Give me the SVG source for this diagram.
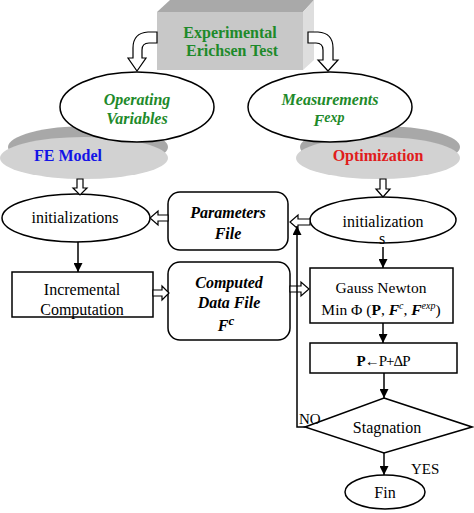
<svg xmlns="http://www.w3.org/2000/svg" width="474" height="513" viewBox="0 0 474 513" font-family="'Liberation Serif', 'Times New Roman', serif">
<defs>
<marker id="ah" viewBox="0 0 10 10" refX="10" refY="5" markerWidth="9" markerHeight="9" orient="auto" markerUnits="userSpaceOnUse"><path d="M0,0 L10,5 L0,10 z" fill="#000"/></marker>
</defs>
<style>
text{font-family:'Liberation Serif','Times New Roman',serif;font-size:16px;fill:#000}
.gr{fill:#1e8a2a;font-weight:bold}
.gi{fill:#1e8a2a;font-weight:bold;font-style:italic}
.bi{font-weight:bold;font-style:italic}
.shape{fill:#fff;stroke:#000;stroke-width:1.5}
.hollow{fill:#fff;stroke:#000;stroke-width:1.2;stroke-linejoin:miter}
.conn{fill:none;stroke:#000;stroke-width:1.5}
</style>
<rect width="474" height="513" fill="#fff"/>

<g id="experimental">
<polygon points="157,12 170,0 314,0 303,12" fill="#a9a9a9"/>
<polygon points="303,12 314,0 314,60 303,70" fill="#dedede"/>
<rect x="157" y="12" width="146" height="58" fill="#c8c8c8"/>
<text class="gr" x="230" y="38" text-anchor="middle" font-family="Liberation Serif, serif">Experimental</text>
<text class="gr" x="232" y="56" text-anchor="middle" font-family="Liberation Serif, serif">Erichsen Test</text>
</g>

<g id="fe-model">
<ellipse cx="88" cy="147" rx="80" ry="21" fill="#a8a8a8"/>
<ellipse cx="84" cy="158" rx="84" ry="21" fill="#d2d2d2"/>
<text x="68" y="161" text-anchor="middle" font-family="Liberation Serif, serif" style="fill:#1414e6;font-weight:bold">FE Model</text>
</g>

<g id="optimization">
<ellipse cx="380" cy="147" rx="80" ry="21" fill="#a8a8a8"/>
<ellipse cx="378" cy="158" rx="82" ry="21" fill="#d2d2d2"/>
<text x="378" y="161" text-anchor="middle" font-family="Liberation Serif, serif" style="fill:#e01c1c;font-weight:bold">Optimization</text>
</g>

<g id="operating-variables">
<ellipse class="shape" cx="137" cy="107" rx="77" ry="35"/>
<text class="gi" x="137" y="105" text-anchor="middle" font-family="Liberation Serif, serif">Operating</text>
<text class="gi" x="137" y="124" text-anchor="middle" font-family="Liberation Serif, serif">Variables</text>
</g>

<g id="measurements">
<ellipse class="shape" cx="330" cy="107" rx="82" ry="35"/>
<text class="gi" x="330" y="105" text-anchor="middle" font-family="Liberation Serif, serif">Measurements</text>
<text class="gi" x="329" y="126" text-anchor="middle" font-family="Liberation Serif, serif">F<tspan font-size="14" dy="-4">exp</tspan></text>
</g>

<g id="initializations-left">
<ellipse class="shape" cx="76" cy="218" rx="74" ry="24"/>
<text x="75" y="223" text-anchor="middle" font-family="Liberation Serif, serif">initializations</text>
</g>

<g id="parameters-file">
<rect class="shape" x="168" y="192" width="120" height="58" rx="12"/>
<text class="bi" x="228" y="218" text-anchor="middle" font-family="Liberation Serif, serif">Parameters</text>
<text class="bi" x="228" y="239" text-anchor="middle" font-family="Liberation Serif, serif">File</text>
</g>

<g id="initialization-right">
<ellipse class="shape" cx="383" cy="220" rx="73" ry="23"/>
<text x="383" y="227" text-anchor="middle" font-family="Liberation Serif, serif">initialization</text>
<text x="382" y="244" text-anchor="middle" font-family="Liberation Serif, serif">s</text>
</g>

<g id="incremental">
<rect class="shape" x="12" y="272" width="141" height="45"/>
<text x="82" y="295" text-anchor="middle" font-family="Liberation Serif, serif">Incremental</text>
<text x="82" y="315" text-anchor="middle" font-family="Liberation Serif, serif">Computation</text>
</g>

<g id="computed-data">
<rect class="shape" x="168" y="262" width="122" height="78" rx="12"/>
<text class="bi" x="229" y="288" text-anchor="middle" font-family="Liberation Serif, serif">Computed</text>
<text class="bi" x="229" y="308" text-anchor="middle" font-family="Liberation Serif, serif">Data File</text>
<text class="bi" x="226" y="331" text-anchor="middle" font-family="Liberation Serif, serif">F<tspan font-size="13" dy="-6">c</tspan></text>
</g>

<g id="gauss-newton">
<rect class="shape" x="310" y="268" width="143" height="55"/>
<text x="381" y="293" text-anchor="middle" font-family="Liberation Serif, serif" style="font-size:15.5px">Gauss Newton</text>
<text x="381" y="315" text-anchor="middle" font-family="Liberation Serif, serif" style="font-size:15.5px">Min Φ (<tspan font-weight="bold">P</tspan>, <tspan font-weight="bold" font-style="italic">F</tspan><tspan font-size="10" dy="-6" font-style="italic">c</tspan><tspan dy="6">, </tspan><tspan font-weight="bold" font-style="italic">F</tspan><tspan font-size="10" dy="-6" font-style="italic">exp</tspan><tspan dy="6">)</tspan></text>
</g>

<g id="update">
<rect class="shape" x="310" y="343" width="147" height="30"/>
<text x="383" y="366" text-anchor="middle" font-family="Liberation Serif, serif" style="font-size:15px;letter-spacing:-1px"><tspan font-weight="bold">P</tspan>←P+ΔP</text>
</g>

<g id="stagnation">
<polygon class="shape" points="384,398 472,427 384,453 305,427"/>
<text x="387" y="433" text-anchor="middle" font-family="Liberation Serif, serif">Stagnation</text>
</g>

<g id="fin">
<ellipse class="shape" cx="385" cy="492" rx="40" ry="17"/>
<text x="385" y="498" text-anchor="middle" font-family="Liberation Serif, serif">Fin</text>
</g>

<g id="connectors">
<path class="hollow" d="M157,32 L148,32 Q133,33 133,48 L133,58 L128,58 L137,71 L146,58 L142,58 L142,50 Q142,43 149,43 L157,43 Z"/>
<path class="hollow" d="M308,32 L318,32 Q333,33 333,48 L333,60 L338,60 L328,71 L318,60 L323,60 L323,50 Q323,43 316,43 L308,43 Z"/>
<path class="hollow" d="M77,179 L83,179 L83,188 L87,188 L80,195 L73,188 L77,188 Z"/>
<path class="hollow" d="M380,179 L386,179 L386,189 L390,189 L383,197 L376,189 L380,189 Z"/>
<path class="hollow" d="M168,215 L158,215 L158,211 L150,218 L158,225 L158,221 L168,221 Z"/>
<path class="hollow" d="M310,219 L298,219 L298,215 L290,222 L298,229 L298,225 L310,225 Z"/>
<path class="hollow" d="M153,290 L162,290 L162,286 L169,293 L162,300 L162,296 L153,296 Z"/>
<path class="hollow" d="M290,286 L301,286 L301,282 L309,289 L301,296 L301,292 L290,292 Z"/>
<line class="conn" x1="78" y1="242" x2="78" y2="272" marker-end="url(#ah)"/>
<line class="conn" x1="383" y1="247" x2="383" y2="268" marker-end="url(#ah)"/>
<line class="conn" x1="383" y1="323" x2="383" y2="343" marker-end="url(#ah)"/>
<line class="conn" x1="384" y1="373" x2="384" y2="398" marker-end="url(#ah)"/>
<line class="conn" x1="384" y1="453" x2="384" y2="475" marker-end="url(#ah)"/>
<polyline class="conn" points="305,427 297,427 297,226" marker-end="url(#ah)"/>
<text x="299" y="424" font-family="Liberation Serif, serif" style="font-size:15px">NO</text>
<text x="411" y="474" font-family="Liberation Serif, serif" style="font-size:15px">YES</text>
</g>
</svg>
